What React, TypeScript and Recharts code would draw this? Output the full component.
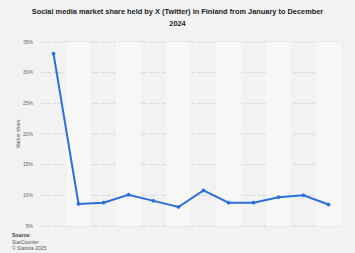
import React from 'react';
import { LineChart, Line, XAxis, YAxis, CartesianGrid, ReferenceArea, Label } from 'recharts';

const months = ['Jan', 'Feb', 'Mar', 'Apr', 'May', 'Jun', 'Jul', 'Aug', 'Sep', 'Oct', 'Nov', 'Dec'];
const share = [33.1, 8.6, 8.8, 10.1, 9.1, 8.1, 10.8, 8.8, 8.8, 9.7, 10.0, 8.5];
const yTicks = [5, 10, 15, 20, 25, 30, 35];
const lightBands = ['Feb', 'Apr', 'Jun', 'Aug', 'Oct', 'Dec'];

const data = months.map((m, i) => ({ month: m, share: share[i] }));

const FONT = '"Liberation Sans", Arial, sans-serif';

const YLabel = (props: any) => {
  const vb = props.viewBox || {};
  const cy = (vb.y || 0) + (vb.height || 0) / 2;
  const cx = 18;
  return (
    <text x={cx} y={cy} transform={`rotate(-90, ${cx}, ${cy})`} textAnchor="middle" dominantBaseline="central" fontSize={5} fill="#666" fontFamily={FONT}>
      Market share
    </text>
  );
};

export default function App() {
  return (
    <div style={{ position: 'absolute', left: 0, top: 0, width: 355, height: 253, background: '#f2f2f2', fontFamily: FONT, overflow: 'hidden' }}>
      <div style={{ position: 'absolute', left: 0, top: 6, width: 355, textAlign: 'center', fontSize: 7.4, fontWeight: 'bold', lineHeight: '11.6px', color: '#222' }}>
        Social media market share held by X (Twitter) in Finland from January to December<br />2024
      </div>
      <LineChart width={355} height={253} data={data} margin={{ top: 42, right: 14, bottom: 27, left: 0 }}>
        {lightBands.map((b) => (
          <ReferenceArea key={b} x1={b} x2={b} fill="#f7f7f7" fillOpacity={1} stroke="none" ifOverflow="extendDomain" />
        ))}
        <CartesianGrid vertical={false} stroke="#dadada" strokeDasharray="10 2" />
        <XAxis dataKey="month" scale="band" hide />
        <YAxis
          width={41}
          domain={[5, 35]}
          ticks={yTicks}
          tickFormatter={(v: number) => `${v}%`}
          axisLine={false}
          tickLine={false}
          tick={{ fontSize: 5, fill: '#666', fontFamily: FONT }}
          interval={0}
        >
          <Label content={<YLabel />} />
        </YAxis>
        <Line
          type="linear"
          dataKey="share"
          stroke="#2a6fdb"
          strokeWidth={2}
          dot={{ r: 1.6, fill: '#2a6fdb', stroke: '#2a6fdb', strokeWidth: 0.6 }}
          isAnimationActive={false}
        />
      </LineChart>
      <div style={{ position: 'absolute', left: 12, top: 232, fontSize: 5, lineHeight: '6.7px', color: '#555' }}>
        <div style={{ fontWeight: 'bold', color: '#333' }}>Source:</div>
        <div>StatCounter</div>
        <div>© Statista 2025</div>
      </div>
    </div>
  );
}
